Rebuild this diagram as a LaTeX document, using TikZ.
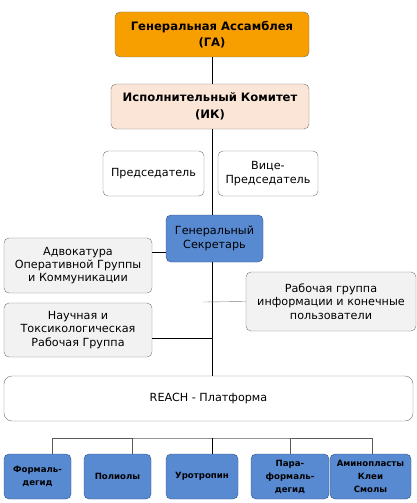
\documentclass[tikz,border=0pt]{standalone}
\usepackage{fontspec}
\setmainfont{DejaVu Sans}
\usetikzlibrary{positioning}

\definecolor{gaorange}{RGB}{247,158,0}
\definecolor{ikpeach}{RGB}{251,229,214}
\definecolor{secblue}{RGB}{88,138,210}
\definecolor{secborder}{RGB}{52,82,130}
\definecolor{wgray}{RGB}{242,242,242}

\tikzset{
  orgbox/.style={draw=gray!90!black, rounded corners=5pt, align=center,
    inner sep=1pt, minimum height=45pt, font=\fontsize{11.2}{13.3}\selectfont},
  topbox/.style={orgbox, font=\bfseries\fontsize{11.6}{16.5}\selectfont},
  bluebox/.style={orgbox, fill=secblue, draw=secborder},
  subbox/.style={bluebox, font=\bfseries\fontsize{8.6}{13}\selectfont},
  wgbox/.style={orgbox, fill=wgray}
}

\begin{document}
\begin{tikzpicture}[x=1pt,y=-1pt]
\useasboundingbox (0,0) rectangle (417,503);

% upper levels
\node[topbox, fill=gaorange, minimum width=194pt] (ga) at (212,34.5)
  {Генеральная Ассамблея\\(ГА)};
\node[topbox, fill=ikpeach, minimum width=198pt] (ik) at (210,106.5)
  {Исполнительный Комитет\\(ИК)};
\node[orgbox, fill=white, minimum width=101pt] (chair) at (153.5,173.5) {Председатель};
\node[orgbox, fill=white, minimum width=100pt] (vice) at (268,173.5) {Вице-\\Председатель};
\node[bluebox, minimum width=97pt, minimum height=47pt] (gs) at (214.5,238.5)
  {Генеральный\\Секретарь};

% working groups
\node[wgbox, minimum width=148pt, minimum height=55pt] (adv) at (78,265.5)
  {Адвокатура\\Оперативной Группы\\и Коммуникации};
\node[wgbox, minimum width=170pt, minimum height=59pt] (info) at (331,301.5)
  {Рабочая группа\\информации и конечные\\пользователи};
\node[wgbox, minimum width=148pt, minimum height=54pt] (sci) at (78,330)
  {Научная и\\Токсикологическая\\Рабочая Группа};
\node[orgbox, fill=white, rounded corners=8pt, minimum width=409pt] (reach) at (208.5,398.5)
  {REACH - Платформа};

% substances
\node[subbox, minimum width=67pt] (b1) at (37.5,476.5) {Формаль-\\дегид};
\node[subbox, minimum width=67pt] (b2) at (117.5,476.5) {Полиолы};
\node[subbox, minimum width=72pt] (b3) at (202,476.5) {Уротропин};
\node[subbox, minimum width=78pt] (b4) at (290,476.5) {Пара-\\формаль-\\дегид};
\node[subbox, minimum width=81pt] (b5) at (370.5,476.5) {Аминопласты\\Клеи\\Смолы};

% main line
\draw (ga.south) -- (ga.south |- ik.north);
\draw (ga.south |- ik.south) -- (ga.south |- gs.north);
\draw (ga.south |- gs.south) -- (ga.south |- reach.north);

% side links
\draw ([yshift=-14pt]adv.north east) coordinate (a1) -- (a1 -| gs.west);
\draw ([yshift=-8pt]sci.east) coordinate (s1) -- (s1 -| ga.south);
\coordinate (infoend) at (203,302);
\draw[gray] (info.west) -- (infoend);

% bus to substances
\coordinate (bus) at (212,438);
\draw[gray!70!black] ([xshift=14.5pt]b1.north) |- (bus) -| ([xshift=1.5pt]b5.north);
\draw[gray!70!black] ([xshift=14.5pt]b2.north) -- ([xshift=14.5pt]b2.north |- bus);
\draw (bus) -- ([xshift=10pt]b3.north);
\draw[gray!70!black] (b4.north) -- (b4.north |- bus);
\end{tikzpicture}
\end{document}
